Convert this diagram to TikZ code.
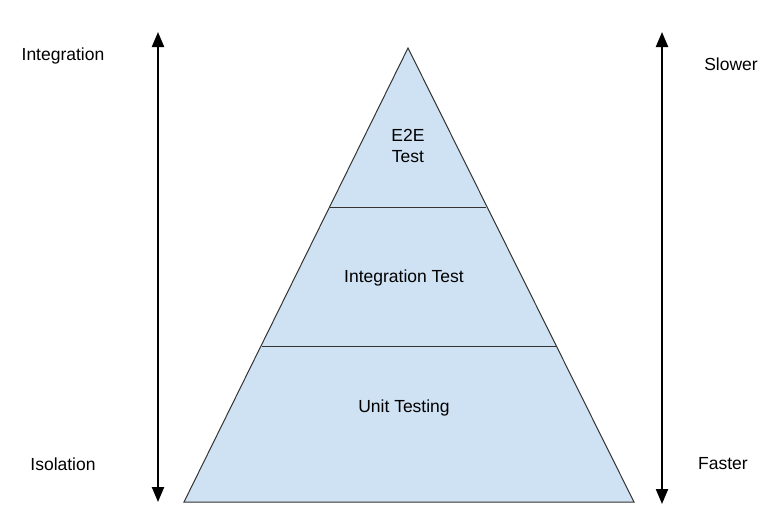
\documentclass[tikz,border=0pt]{standalone}
\usepackage{fontspec}
\setmainfont{Liberation Sans}
\usetikzlibrary{arrows.meta}
\definecolor{fillb}{HTML}{CFE2F3}
\definecolor{edge}{HTML}{333333}
\begin{document}
\begin{tikzpicture}[x=1pt,y=-1pt,
  lbl/.style={font=\fontsize{17.5}{21}\selectfont, align=center, inner sep=0},
  band/.style={fill=fillb, draw=edge, line width=1pt, line join=miter},
  bigarrow/.style={line width=2.2pt, {Triangle[length=15pt,width=12pt]}-{Triangle[length=15pt,width=12pt]}}]
\useasboundingbox (0,0) rectangle (777,515);
\coordinate (apex) at (408,48);
\coordinate (bl) at (184,502);
\coordinate (br) at (634,502);
\coordinate (l1) at (330,207);
\coordinate (r1) at (486,207);
\coordinate (l2) at (262,346);
\coordinate (r2) at (556,346);
\draw[band] (apex) -- (br) -- (bl) -- cycle;
\draw[edge, line width=1pt] (l1) -- (r1);
\draw[edge, line width=1pt] (l2) -- (r2);
\node[lbl] (e2e) at (408,146) {E2E\\Test};
\node[lbl] (integ) at (404,278) {Integration Test};
\node[lbl] (unit) at (404,408) {Unit Testing};
\coordinate (lt) at (158,32);
\coordinate (lb) at (158,502);
\coordinate (rt) at (662,32);
\coordinate (rb) at (662,504);
\draw[bigarrow] (lt) -- (lb);
\draw[bigarrow] (rt) -- (rb);
\node[lbl] (tl) at (63,56) {Integration};
\node[lbl] (bll) at (63,464) {Isolation};
\node[lbl] (tr) at (731,64) {Slower};
\node[lbl] (brr) at (723,464) {Faster};
\end{tikzpicture}
\end{document}
